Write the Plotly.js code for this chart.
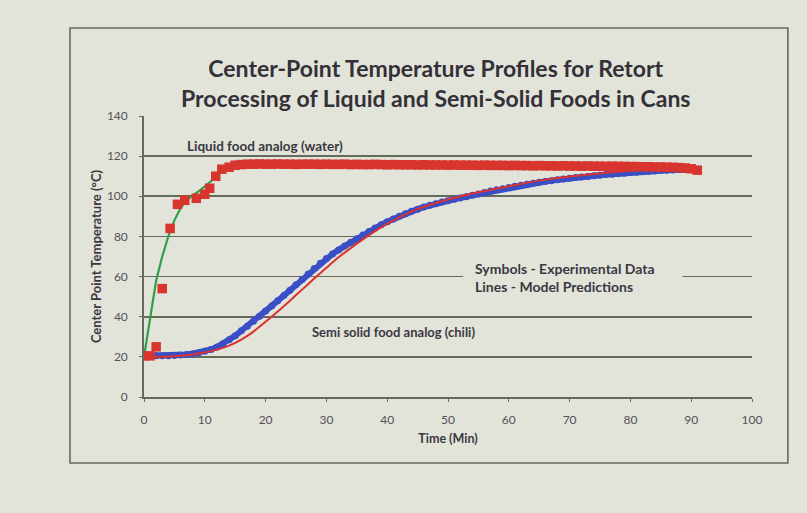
<!DOCTYPE html>
<html>
<head>
<meta charset="utf-8">
<script src="https://cdn.plot.ly/plotly-3.0.1.min.js"></script>
<style>
html,body{margin:0;padding:0;background:#e2e3d9;}
#chart{width:807px;height:513px;}
</style>
</head>
<body>
<div id="chart"></div>
<script>
// Liquid food analog (water) - experimental (red squares)
const liquidExpTime = [0,1,2,3,4.3,5.5,6.7,8.6,10,10.8,11.8,12.8,
  14,15,16,17,18,19,20,21,22,23,24,25,26,27,28,29,30,31,32,33,34,35,36,37,38,39,40,
  41,42,43,44,45,46,47,48,49,50,51,52,53,54,55,56,57,58,59,60,61,62,63,64,65,66,67,68,69,70,
  71,72,73,74,75,76,77,78,79,80,81,82,83,84,85,86,87,88,89,90,91];
const liquidExpTemp = [20.5,20.5,25,54,84,96,98,99,101,104,110,113.5,
  114.5,115.5,115.8,116,116,116.1,116,116,116.1,116,116,115.9,116,116,116,115.9,116,115.9,115.9,116,115.8,115.9,115.8,115.8,115.9,115.8,115.7,
  115.8,115.7,115.7,115.7,115.6,115.7,115.6,115.6,115.6,115.5,115.6,115.5,115.5,115.5,115.4,115.5,115.4,115.4,115.4,115.3,115.4,115.3,115.3,115.2,115.3,115.2,115.2,115.1,115.2,115.1,
  115.1,115.0,115.1,115.0,115.0,114.9,115.0,114.9,114.9,114.8,114.8,114.7,114.7,114.6,114.6,114.5,114.4,114.3,114.1,113.7,113];

// Liquid food analog (water) - model prediction (green line)
const liquidModelTime = [0,0.5,1,1.5,2,3,4,5,6,7,8,9,10,11,12,13,14,15,20,30,40,50,60,70,80,90];
const liquidModelTemp = [20,30,40,50,58,70,80,88,94,98,100.5,102.5,105,107.5,110.5,113,114.5,115.5,116,116,116,115.8,115.5,115.2,115,114];

// Semi-solid food analog (chili) - experimental (blue symbols)
const semiExpTime = [0,1,2,3,4,5,6,7,8,9,10,11,12,13,14,15,16,17,18,19,20,
  21,22,23,24,25,26,27,28,29,30,31,32,33,34,35,36,37,38,39,40,
  41,42,43,44,45,46,47,48,49,50,51,52,53,54,55,56,57,58,59,60,
  61,62,63,64,65,66,67,68,69,70,71,72,73,74,75,76,77,78,79,80,
  81,82,83,84,85,86,87,88,89];
const semiExpTemp = [20.5,20.5,20.5,20.5,20.6,20.7,20.9,21.2,21.6,22.1,22.8,23.7,24.9,26.5,28.5,30.5,33.0,35.3,37.7,40.2,42.8,
  45.4,48.0,50.6,53.2,55.9,58.6,61.3,64.0,66.6,69.0,71.2,73.3,75.2,77.1,78.9,80.7,82.5,84.2,85.8,87.3,
  88.7,90.0,91.3,92.5,93.6,94.6,95.5,96.3,97.1,97.8,98.5,99.2,99.8,100.5,101.2,101.9,102.6,103.2,103.8,104.4,
  105.0,105.5,106.0,106.5,107.0,107.4,107.8,108.2,108.6,109.0,109.3,109.6,109.9,110.2,110.5,110.8,111.0,111.3,111.5,111.8,
  112.0,112.2,112.4,112.6,112.8,113.0,113.1,113.3,113.4];

// Semi-solid food analog (chili) - model prediction (thin red line)
const semiModelTime = [0,5,10,12,14,16,18,20,22,24,26,28,30,32,34,36,38,40,45,50,55,60,65,70,75,80,85,90];
const semiModelTemp = [20,20.3,22.2,23.6,25.6,28.6,32.6,37.5,42.6,48.0,53.5,59.0,64.4,69.6,74.2,78.5,82.6,86.4,93.6,98.4,102,105,107.8,109.9,111.4,112.7,113.7,114.3];

// Axis ticks and texts
const yTicks = [0,20,40,60,80,100,120,140];
const xTicks = [0,10,20,30,40,50,60,70,80,90,100];
const titleText = "Center-Point Temperature Profiles for Retort<br>Processing of Liquid and Semi-Solid Foods in Cans";
const xTitle = "Time (Min)";
const yTitle = "Center Point Temperature (°C)";
const labelLiquid = "Liquid food analog (water)";
const labelSemi = "Semi solid food analog (chili)";
const labelNote = "Symbols - Experimental Data<br>Lines - Model Predictions";

const grid = '#656b5a';
const bg = '#e2e3d9';
const txt = '#3b3842';
const font = 'Lato, "Open Sans", sans-serif';

const traces = [
  {x: liquidModelTime, y: liquidModelTemp, mode: 'lines', line: {color: '#2fa046', width: 2.2}, name: 'Liquid model'},
  {x: semiExpTime, y: semiExpTemp, mode: 'lines+markers', line: {color: '#3a4fc6', width: 6},
   marker: {symbol: 'circle', size: 7, color: '#3a4fc6'}, name: 'Semi-solid exp'},
  {x: semiModelTime, y: semiModelTemp, mode: 'lines', line: {color: '#d8332e', width: 2, shape: 'spline'}, name: 'Semi-solid model'},
  {x: liquidExpTime, y: liquidExpTemp, mode: 'markers', marker: {symbol: 'square', size: 9.5, color: '#d8352f'}, name: 'Liquid exp'}
];

const layout = {
  width: 807, height: 513,
  paper_bgcolor: bg, plot_bgcolor: bg,
  margin: {l: 144, r: 55, t: 116, b: 116},
  showlegend: false,
  font: {family: font, color: txt},
  title: {text: titleText, x: 0.54, xanchor: 'center', y: 0.85, yanchor: 'middle',
    font: {family: font, size: 23, color: '#333038', weight: 700}},
  xaxis: {range: [0, 100], tickvals: xTicks, showgrid: false, zeroline: false,
    showline: true, linecolor: grid, linewidth: 1.8, ticks: 'outside', ticklen: 3, tickcolor: grid,
    tickfont: {size: 12, color: '#55525a'}, ticklabelstandoff: 8,
    title: {text: xTitle, font: {size: 12.5, color: txt, weight: 700}, standoff: 8}},
  yaxis: {range: [0, 140], tickvals: yTicks, showgrid: true, gridcolor: grid, gridwidth: 1.6,
    zeroline: false, showline: true, linecolor: grid, linewidth: 1.8, ticks: 'outside', ticklen: 3, tickcolor: grid,
    tickfont: {size: 12, color: '#55525a'}, ticklabelstandoff: 9,
    title: {text: yTitle, font: {size: 13, color: txt, weight: 700}, standoff: 2}},
  shapes: [
    {type: 'rect', xref: 'paper', yref: 'paper', x0: -0.1217, x1: 1.059, y0: -0.235, y1: 1.313,
     line: {color: grid, width: 1.6}, fillcolor: 'rgba(0,0,0,0)', layer: 'below'},
    {type: 'rect', xref: 'x', yref: 'y', x0: 52.5, x1: 88.6, y0: 57.5, y1: 62.5,
     line: {width: 0}, fillcolor: bg, layer: 'between'}
  ],
  annotations: [
    {x: 19.9, y: 125.2, xref: 'x', yref: 'y', text: labelLiquid, showarrow: false,
     font: {size: 13.5, color: txt, weight: 700}},
    {x: 41, y: 32.6, xref: 'x', yref: 'y', text: labelSemi, showarrow: false,
     font: {size: 13, color: txt, weight: 700}},
    {x: 54.1, y: 59.3, xref: 'x', yref: 'y', text: labelNote, showarrow: false,
     xanchor: 'left', align: 'left', font: {size: 14, color: txt, weight: 700}}
  ]
};

Plotly.newPlot('chart', traces, layout, {displayModeBar: false, staticPlot: true});
</script>
</body>
</html>
